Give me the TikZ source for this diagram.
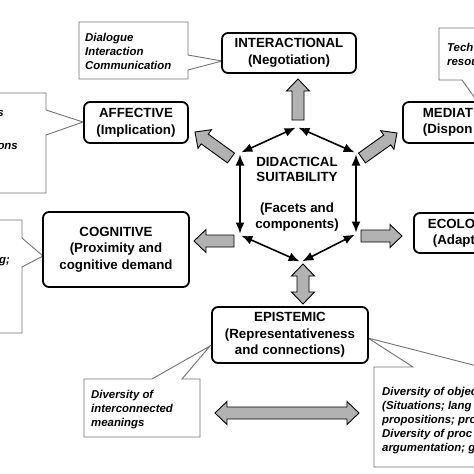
\documentclass[tikz,border=0pt]{standalone}
\usepackage{fontspec}
\setmainfont{Liberation Sans}
\usetikzlibrary{arrows.meta, calc, positioning}

\tikzset{
  mainbox/.style={draw, rounded corners=6pt, line width=1.8pt, fill=white, align=center,
    font=\bfseries\fontsize{13.3}{16.5}\selectfont, inner sep=0pt},
  notebox/.style={draw=black!55, line width=0.9pt, fill=white, line join=miter},
  notetext/.style={font=\bfseries\itshape\fontsize{11.4}{14}\selectfont, align=left,
    inner sep=0pt, anchor=north west},
  blockfill/.style={fill=black!30, draw=black, line width=0.9pt, line join=miter},
  hexedge/.style={{Latex[length=11pt,width=9pt]}-{Latex[length=11pt,width=9pt]},
    line width=1.6pt, shorten <=1.5pt, shorten >=1.5pt},
}

\newcommand{\blockarrow}[2]{%
  \coordinate (ba-h) at ($(#2)!12pt!(#1)$);
  \draw[blockfill] ($(#1)!6pt!90:(#2)$) -- ($(ba-h)!6pt!90:(#2)$) -- ($(ba-h)!11.5pt!90:(#2)$)
    -- (#2) -- ($(ba-h)!11.5pt!-90:(#2)$) -- ($(ba-h)!6pt!-90:(#2)$) -- ($(#1)!6pt!-90:(#2)$) -- cycle;
}
\newcommand{\dblarrow}[2]{%
  \coordinate (da-a) at ($(#1)!12pt!(#2)$);
  \coordinate (da-b) at ($(#2)!12pt!(#1)$);
  \draw[blockfill] (#1) -- ($(da-a)!11.5pt!90:(#2)$) -- ($(da-a)!6pt!90:(#2)$)
    -- ($(da-b)!6pt!-90:(#1)$) -- ($(da-b)!11.5pt!-90:(#1)$) -- (#2)
    -- ($(da-b)!11.5pt!90:(#1)$) -- ($(da-b)!6pt!90:(#1)$)
    -- ($(da-a)!6pt!-90:(#2)$) -- ($(da-a)!11.5pt!-90:(#2)$) -- cycle;
}

\begin{document}
\begin{tikzpicture}[x=1pt, y=-1pt]
\useasboundingbox (0,0) rectangle (474,474);
\clip (0,0) rectangle (474,474);

% callouts
\draw[notebox] (79,22) -- (188,22) -- (188,55) -- (222,61) -- (188,70) -- (188,79) -- (79,79) -- cycle;
\node[notetext] (dlg) at (85,33) {Dialogue\\Interaction\\Communication};

\draw[notebox] (-5,93) -- (46,93) -- (46,110) -- (83,122) -- (46,135) -- (46,193) -- (-5,193) -- cycle;
\node[notetext, anchor=base east] (affa) at (4,116) {s};
\node[notetext, anchor=base east] (affb) at (18,149) {ons};

\draw[notebox] (-5,220) -- (22,220) -- (22,238) -- (43,256) -- (22,267) -- (22,333) -- (-5,333) -- cycle;
\node[notetext, anchor=base east] (cogt) at (10,263) {g;};

\draw[notebox] (439,28) -- (500,28) -- (500,80) -- (488,80) -- (477,101) -- (462,80) -- (439,80) -- cycle;
\node[notetext] (tech) at (447,43) {Tech\\resou};

\draw[notebox] (84,379) -- (152,379) -- (210,346) -- (182,379) -- (200,379) -- (200,437) -- (84,437) -- cycle;
\node[notetext] (mean) at (91,390) {Diversity of\\interconnected\\meanings};

\draw[notebox] (374,367) -- (413,367) -- (368,338) -- (481,367) -- (500,367) -- (500,467) -- (374,467) -- cycle;
\node[notetext] (objs) at (382,387) {Diversity of objec\\(Situations; lang\\propositions; pro\\Diversity of proc\\argumentation; g};

% facets
\node[mainbox, minimum width=134, minimum height=40] (inter) at (289,53) {INTERACTIONAL\\(Negotiation)};
\node[mainbox, minimum width=104, minimum height=41] (affect) at (136,122.5) {AFFECTIVE\\(Implication)};
\node[mainbox, anchor=west, minimum height=41, text width=110, inner xsep=20, align=left] (media) at (402,122.5) {MEDIAT\\(Dispon};
\node[mainbox, minimum width=146, minimum height=75] (cogn) at (116,249.5) {COGNITIVE\\(Proximity and\\cognitive demand};
\node[mainbox, anchor=west, minimum height=40, text width=110, inner xsep=14, align=left] (ecol) at (413,233) {ECOLO\\\hspace*{5pt}(Adapt};
\node[mainbox, minimum width=156, minimum height=56] (epist) at (290,335) {EPISTEMIC\\(Representativeness\\and connections)};

% hexagon
\node[font=\bfseries\fontsize{13.3}{15.5}\selectfont, align=center] (suit) at (297,194)
  {DIDACTICAL\\SUITABILITY\\[15.5pt](Facets and\\components)};
\coordinate (hT) at (297,127);
\coordinate (hUL) at (240,153);
\coordinate (hLL) at (240,235);
\coordinate (hB) at (301,262);
\coordinate (hLR) at (356,234);
\coordinate (hUR) at (356,153);
\draw[hexedge] (hT) -- (hUL);
\draw[hexedge] (hT) -- (hUR);
\draw[hexedge] (hUL) -- (hLL);
\draw[hexedge] (hUR) -- (hLR);
\draw[hexedge] (hLL) -- (hB);
\draw[hexedge] (hLR) -- (hB);

% block arrows
\coordinate (upTail) at (298,120);
\coordinate (upTip) at (298,79);
\coordinate (ulTail) at (231,158);
\coordinate (ulTip) at (195,132);
\coordinate (urTail) at (362,158);
\coordinate (urTip) at (397,133);
\coordinate (lTail) at (234,241);
\coordinate (lTip) at (194,241);
\coordinate (rTail) at (361,236);
\coordinate (rTip) at (402,236);
\coordinate (epTop) at (303,264);
\coordinate (epBot) at (303,304);
\coordinate (mnL) at (215,413);
\coordinate (mnR) at (359,413);
\blockarrow{upTail}{upTip}
\blockarrow{ulTail}{ulTip}
\blockarrow{urTail}{urTip}
\blockarrow{lTail}{lTip}
\blockarrow{rTail}{rTip}
\dblarrow{epTop}{epBot}
\dblarrow{mnL}{mnR}
\end{tikzpicture}
\end{document}
